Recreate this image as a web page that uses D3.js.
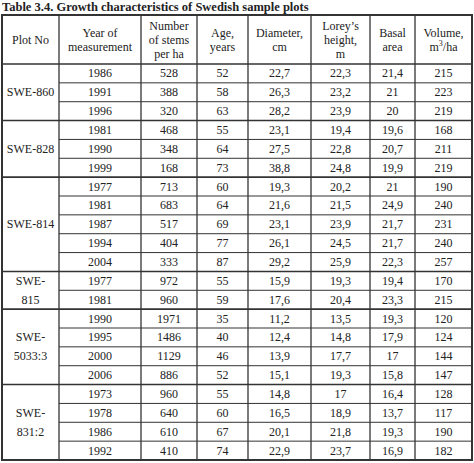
<!DOCTYPE html>
<html>
<head>
<meta charset="utf-8">
<script src="https://cdn.jsdelivr.net/npm/d3@7"></script>
<style>
  body { margin: 0; background: #fff; }
  text { font-family: "Liberation Serif", "Times New Roman", serif; fill: #222; }
</style>
</head>
<body>
<svg id="chart" width="474" height="463"></svg>
<script>
const title = 'Table 3.4. Growth characteristics of Swedish sample plots';
const headers = [
  ['Plot No'],
  ['Year of', 'measurement'],
  ['Number', 'of stems', 'per ha'],
  ['Age,', 'years'],
  ['Diameter,', 'cm'],
  ['Lorey\u2019s', 'height,', 'm'],
  ['Basal', 'area'],
  ['Volume,', 'm\u00b3/ha']
];
const plots = [
  { name: ['SWE-860'], rows: 3 },
  { name: ['SWE-828'], rows: 3 },
  { name: ['SWE-814'], rows: 5 },
  { name: ['SWE-', '815'], rows: 2 },
  { name: ['SWE-', '5033:3'], rows: 4 },
  { name: ['SWE-', '831:2'], rows: 4 }
];
const years = [1986, 1991, 1996, 1981, 1990, 1999, 1977, 1981, 1987, 1994, 2004, 1977, 1981, 1990, 1995, 2000, 2006, 1973, 1978, 1986, 1992];
const stems = [528, 388, 320, 468, 348, 168, 713, 683, 517, 404, 333, 972, 960, 1971, 1486, 1129, 886, 960, 640, 610, 410];
const ages = [52, 58, 63, 55, 64, 73, 60, 64, 69, 77, 87, 55, 59, 35, 40, 46, 52, 55, 60, 67, 74];
const diameter = ['22,7', '26,3', '28,2', '23,1', '27,5', '38,8', '19,3', '21,6', '23,1', '26,1', '29,2', '15,9', '17,6', '11,2', '12,4', '13,9', '15,1', '14,8', '16,5', '20,1', '22,9'];
const height = ['22,3', '23,2', '23,9', '19,4', '22,8', '24,8', '20,2', '21,5', '23,9', '24,5', '25,9', '19,3', '20,4', '13,5', '14,8', '17,7', '19,3', '17', '18,9', '21,8', '23,7'];
const basal = ['21,4', '21', '20', '19,6', '20,7', '19,9', '21', '24,9', '21,7', '21,7', '22,3', '19,4', '23,3', '19,3', '17,9', '17', '15,8', '16,4', '13,7', '19,3', '16,9'];
const volume = [215, 223, 219, 168, 211, 219, 190, 240, 231, 240, 257, 170, 215, 120, 124, 144, 147, 128, 117, 190, 182];

const colEdges = [2, 59, 141, 197, 248, 311, 370, 415, 472];
const tableTop = 15, headBottom = 64, tableBottom = 460;
const nRows = years.length;

const svg = d3.select('#chart');
const y = d3.scaleLinear().domain([0, nRows]).range([headBottom, tableBottom]);
const rowH = y(1) - y(0);
const cx = i => (colEdges[i] + colEdges[i + 1]) / 2;

svg.append('text')
  .attr('x', 2).attr('y', 11)
  .attr('font-size', 12.5).attr('font-weight', 'bold')
  .text(title);

// header
const hd = svg.append('g');
headers.forEach((lines, i) => {
  const mid = (tableTop + headBottom) / 2;
  const t = hd.append('text').attr('text-anchor', 'middle').attr('font-size', 12);
  lines.forEach((l, k) => {
    const ty = mid + (k - (lines.length - 1) / 2) * 14 + 4;
    if (l.includes('\u00b3')) {
      t.append('tspan').attr('x', cx(i)).attr('y', ty).text('m');
      t.append('tspan').attr('font-size', 8).attr('dy', -5).text('3');
      t.append('tspan').attr('dy', 5).text('/ha');
    } else {
      t.append('tspan').attr('x', cx(i)).attr('y', ty).text(l);
    }
  });
});

// body cells
const cols = [years, stems, ages, diameter, height, basal, volume];
const body = svg.append('g');
cols.forEach((arr, c) => {
  body.selectAll(null).data(arr).enter().append('text')
    .attr('text-anchor', 'middle')
    .attr('x', cx(c + 1))
    .attr('y', (d, r) => y(r) + rowH / 2 + 4)
    .attr('font-size', 12)
    .text(d => d);
});

// plot names
let start = 0;
const groupStarts = [];
plots.forEach(p => {
  groupStarts.push(start);
  const mid = (y(start) + y(start + p.rows)) / 2;
  const t = body.append('text').attr('text-anchor', 'middle').attr('font-size', 12);
  p.name.forEach((l, k) => {
    t.append('tspan').attr('x', cx(0))
      .attr('y', mid + (k - (p.name.length - 1) / 2) * 19 + 4).text(l);
  });
  start += p.rows;
});

const grid = svg.append('g').attr('stroke', '#333').attr('fill', 'none');
d3.range(1, nRows).forEach(r => {
  const isGroup = groupStarts.includes(r);
  grid.append('line')
    .attr('x1', isGroup ? colEdges[0] : colEdges[1]).attr('x2', colEdges[8])
    .attr('y1', y(r)).attr('y2', y(r))
    .attr('stroke-width', isGroup ? 1.6 : 1);
});
grid.append('line').attr('x1', colEdges[0]).attr('x2', colEdges[8])
  .attr('y1', headBottom).attr('y2', headBottom).attr('stroke-width', 1.6);
colEdges.slice(1, -1).forEach(x => {
  grid.append('line').attr('x1', x).attr('x2', x)
    .attr('y1', tableTop).attr('y2', tableBottom).attr('stroke-width', 1.3);
});
grid.append('rect')
  .attr('x', colEdges[0]).attr('y', tableTop)
  .attr('width', colEdges[8] - colEdges[0]).attr('height', tableBottom - tableTop)
  .attr('stroke-width', 2);
</script>
</body>
</html>
